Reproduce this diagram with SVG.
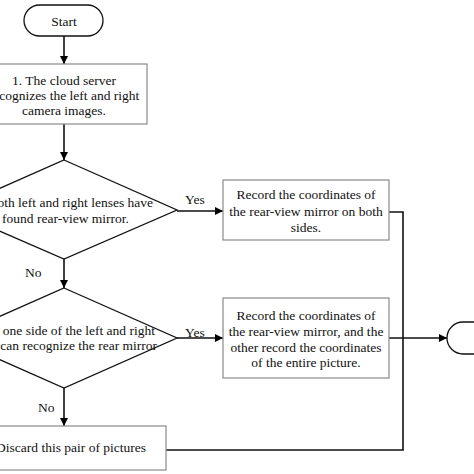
<svg xmlns="http://www.w3.org/2000/svg" width="474" height="474" viewBox="0 0 474 474">
<defs>
<marker id="arr" viewBox="0 0 10 10" refX="10" refY="5" markerWidth="8" markerHeight="8" markerUnits="userSpaceOnUse" orient="auto">
<path d="M0,0 L10,5 L0,10 z" fill="#000"/>
</marker>
<style>
text{font-family:"Liberation Serif","Times New Roman",serif;font-size:13.5px;fill:#111}
.m{text-anchor:middle}
.e{text-anchor:end}
.box{fill:#fff;stroke:#8a8a8a;stroke-width:1.2}
.term{fill:#fff;stroke:#111;stroke-width:1.3}
.dia{fill:#fff;stroke:#111;stroke-width:1.3}
.c{fill:none;stroke:#111;stroke-width:1.6}
</style>
</defs>
<rect width="474" height="474" fill="#fff"/>
<g id="connectors">
<line class="c" x1="64" y1="36" x2="64" y2="64" marker-end="url(#arr)"/>
<line class="c" x1="64" y1="124" x2="64" y2="160" marker-end="url(#arr)"/>
<line class="c" x1="177" y1="211" x2="223" y2="211" marker-end="url(#arr)"/>
<line class="c" x1="64" y1="259" x2="64" y2="288" marker-end="url(#arr)"/>
<line class="c" x1="177" y1="338" x2="223" y2="338" marker-end="url(#arr)"/>
<line class="c" x1="64" y1="388" x2="64" y2="426" marker-end="url(#arr)"/>
<polyline class="c" points="389,212 403,212 403,450"/>
<line class="c" x1="166" y1="450" x2="403.8" y2="450"/>
<line class="c" x1="389" y1="338" x2="447" y2="338" marker-end="url(#arr)"/>
<text x="185" y="204">Yes</text>
<text x="25" y="277">No</text>
<text x="185" y="337">Yes</text>
<text x="38" y="412">No</text>
</g>
<g id="start">
<rect class="term" x="24" y="5" width="79" height="31" rx="15.5"/>
<text class="m" x="64" y="26">Start</text>
</g>
<g id="step1">
<rect class="box" x="-19" y="64" width="166" height="60"/>
<text class="m" x="64" y="85">1. The cloud server</text>
<text class="m" x="64" y="100">recognizes the left and right</text>
<text class="m" x="64" y="115">camera images.</text>
</g>
<g id="decision1">
<polygon class="dia" points="64,160 177,210 64,259 -49,210"/>
<text class="e" x="153" y="207">Both left and right lenses have</text>
<text class="m" x="65.5" y="223">found rear-view mirror.</text>
</g>
<g id="recordBoth">
<rect class="box" x="223" y="180" width="166" height="60"/>
<text class="m" x="306" y="199">Record the coordinates of</text>
<text class="m" x="306" y="216">the rear-view mirror on both</text>
<text class="m" x="306" y="232">sides.</text>
</g>
<g id="decision2">
<polygon class="dia" points="64,288 177,338 64,388 -49,338"/>
<text class="e" x="155" y="335">Only one side of the left and right</text>
<text class="e" x="157" y="350">lenses can recognize the rear mirror</text>
</g>
<g id="recordOne">
<rect class="box" x="223" y="298" width="166" height="80"/>
<text class="m" x="306" y="320">Record the coordinates of</text>
<text class="m" x="306" y="336">the rear-view mirror, and the</text>
<text class="m" x="306" y="352">other record the coordinates</text>
<text class="m" x="306" y="367">of the entire picture.</text>
</g>
<g id="discard">
<rect class="box" x="-40" y="426" width="206" height="44"/>
<text class="e" x="146" y="452">Discard this pair of pictures</text>
</g>
<g id="end">
<rect class="term" x="447" y="322" width="80" height="32" rx="16"/>
</g>
</svg>
